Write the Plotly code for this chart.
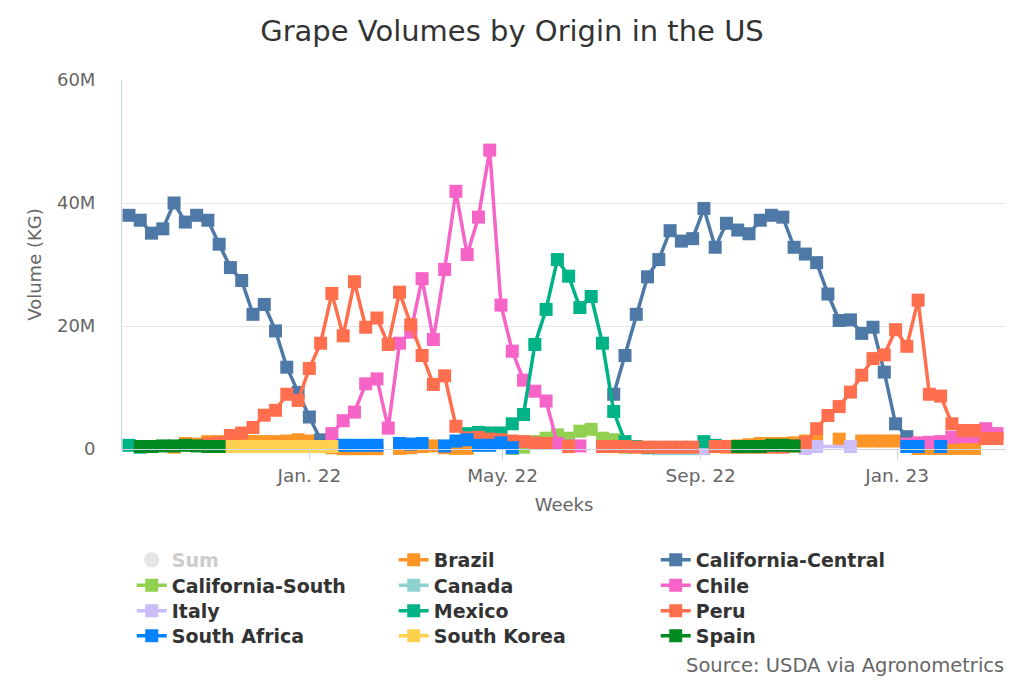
import pandas as pd
import plotly.graph_objects as go

N = None
weeks = pd.date_range("2021-09-11", periods=78, freq="7D")

brazil = [N, N, N, N, 0.3, 0.9, 0.8, 1.2, 1.2, 1.1,
          1.1, 1.2, 1.2, 1.2, 1.3, 1.5, 1.3, 0.5, 0.2, 0.05,
          0.05, 0.05, 0.05, N, 0.1, 0.2, 0.4, 0.5, 0.2, 0.1,
          0.1, N, N, N, N, N, N, N, N, N,
          N, N, N, N, N, N, N, N, N, N,
          N, N, N, 0.3, 0.5, 0.7, 0.9, 0.9, 0.9, 1.0,
          1.3, 1.4, N, 1.6, N, 1.3, 1.3, 1.3, 1.3, 1.2,
          0.1, 0.1, 0.1, 0.1, 0.1, 0.1, N, N]
cal_central = [38.0, 37.2, 35.1, 35.8, 40.0, 36.9, 38.0, 37.2, 33.3, 29.5,
               27.4, 21.9, 23.5, 19.2, 13.3, 9.2, 5.2, 1.5, N, N,
               N, N, N, N, N, N, N, N, N, N,
               N, N, N, N, N, N, N, N, N, N,
               N, N, N, 8.9, 15.2, 21.9, 28.0, 30.8, 35.5, 33.8,
               34.2, 39.1, 32.8, 36.7, 35.6, 35.0, 37.2, 38.0, 37.7, 32.8,
               31.7, 30.3, 25.2, 20.9, 21.0, 18.8, 19.8, 12.5, 4.1, 2.0,
               N, N, N, N, N, N, N, N]
cal_south = [N] * 34 + [0.1, 0.3, 1.2, 1.75, 2.3, 1.75, 2.9, 3.2, 1.75, 1.5, 0.3] + [N] * 33
canada = [N] * 47 + [0.05, 0.05, 0.05, 0.05] + [N] * 27
chile = [N, N, N, N, N, N, N, N, N, N,
         N, N, N, N, N, N, N, N, 2.5, 4.6,
         6.0, 10.6, 11.4, 3.4, 17.2, 19.0, 27.7, 17.8, 29.2, 41.9,
         31.6, 37.7, 48.6, 23.4, 15.9, 11.2, 9.4, 7.8, 0.9, 0.5,
         0.5, N, N, N, N, N, N, N, N, N,
         N, N, N, N, N, N, N, N, N, N,
         N, N, N, N, N, N, N, N, N, 0.8,
         1.0, 1.1, 1.2, 1.9, 2.0, 2.0, 3.3, 2.5]
# Italy has only a few reported weeks; missing weeks are joined by the line
italy = [N] * 51 + [0.05] + [N] * 8 + [0.1, 0.4, N, N, 0.4] + [N] * 13
mexico = [0.6, 0.3, N, N, N, N, N, N, N, N,
          N, N, N, N, N, N, N, N, N, N,
          N, N, N, N, N, N, N, N, N, N,
          2.5, 2.7, 2.6, 2.6, 4.1, 5.6, 17.0, 22.7, 30.8, 28.1,
          23.0, 24.8, 17.2, 6.1, 1.2, 0.4, 0.2, N, N, N,
          N, 1.2, 0.6, N, N, N, N, N, N, N,
          N, N, N, N, N, N, N, N, N, N,
          N, N, N, N, N, N, N, N]
peru = [N, N, N, N, N, N, N, 0.8, 1.0, 2.2,
        2.6, 3.5, 5.5, 6.3, 8.9, 7.9, 13.1, 17.2, 25.3, 18.4,
        27.2, 19.8, 21.3, 17.0, 25.5, 20.2, 15.2, 10.5, 11.9, 3.7,
        1.8, 1.9, 1.6, 1.5, 1.3, 1.2, 1.0, 0.9, N, 0.4,
        N, N, 0.4, 0.4, 0.4, 0.3, 0.3, 0.3, 0.3, 0.3,
        0.3, N, 0.4, 0.4, 0.3, 0.3, 0.3, 0.3, 0.3, 0.5,
        1.0, 3.3, 5.45, 6.9, 9.25, 12.0, 14.7, 15.3, 19.4, 16.7,
        24.2, 8.9, 8.6, 4.1, 3.0, 3.0, 1.7, 1.7]
south_africa = ([N] * 19 + [0.6, 0.6, 0.6, 0.6, N, 0.9, 0.8, 0.9, N, 0.5, 1.3,
                            1.5, 0.6, 0.6, 1.0, 0.2]
                + [N] * 34 + [0.4, 0.4, N, 0.4] + [N] * 5)
south_korea = [N] * 9 + [0.4] * 10 + [N] * 59
spain = [N, 0.4, 0.4, 0.5, 0.5, 0.6, 0.5, 0.4, 0.4] + [N] * 45 + [0.4, 0.4, 0.4, 0.6, 0.6, 0.5] + [N] * 18

series = [
    ("Brazil", brazil, "#fd9527", False),
    ("California-Central", cal_central, "#4e79a7", False),
    ("California-South", cal_south, "#92d050", False),
    ("Canada", canada, "#8fd3d1", False),
    ("Chile", chile, "#f564c6", False),
    ("Italy", italy, "#cbbdf9", True),
    ("Mexico", mexico, "#00b386", False),
    ("Peru", peru, "#ff6f4e", False),
    ("South Africa", south_africa, "#0582ff", False),
    ("South Korea", south_korea, "#ffd14f", False),
    ("Spain", spain, "#008a1f", False),
]

total = [sum(s[1][i] or 0 for s in series) for i in range(len(weeks))]

FONT = "DejaVu Sans, sans-serif"
legend_ids = ["legend", "legend", "legend2", "legend2", "legend2", "legend3",
              "legend3", "legend3", "legend4", "legend4", "legend4"]

fig = go.Figure()
fig.add_trace(go.Scatter(
    x=weeks, y=[v * 1e6 for v in total], name="<span style='color:#999999'>Sum</span>",
    mode="markers", visible="legendonly", legend="legend",
    marker=dict(symbol="circle", size=15, color="#cccccc"),
))
for (name, vals, color, joined), lg in zip(series, legend_ids):
    fig.add_trace(go.Scatter(
        x=weeks, y=[None if v is None else v * 1e6 for v in vals], name=name,
        mode="lines+markers", cliponaxis=False, legend=lg,
        line=dict(color=color, width=3.5),
        marker=dict(symbol="square", size=13, color=color, line=dict(width=0)),
        connectgaps=joined,
    ))


def paper_y(py):
    return (449 - py) / 369


def legend_cfg(row_y):
    return dict(orientation="h", xref="paper", x=0.011, xanchor="left",
                yref="paper", y=paper_y(row_y), yanchor="middle",
                entrywidth=217, entrywidthmode="pixels", itemwidth=30,
                bgcolor="rgba(0,0,0,0)",
                font=dict(size=19, color="#333333", family=FONT, weight="bold"),
                traceorder="normal")


fig.update_layout(
    width=1024, height=683,
    margin=dict(l=122, r=18, t=80, b=234, autoexpand=False),
    paper_bgcolor="white", plot_bgcolor="white",
    font=dict(family=FONT, color="#666666"),
    title=dict(text="Grape Volumes by Origin in the US", xref="container", x=0.5,
               xanchor="center", yref="container", y=1 - 31 / 683, yanchor="middle",
               font=dict(size=29, color="#333333", family=FONT)),
    showlegend=True,
    legend=legend_cfg(560),
    legend2=legend_cfg(585.5),
    legend3=legend_cfg(611),
    legend4=legend_cfg(636),
    xaxis=dict(type="date", range=["2021-09-06 16:00", "2023-03-09 14:00"],
               tickformat="%b. %y", dtick="M4", tick0="2022-01-01",
               showgrid=False, showline=True, linecolor="#ccd6eb", linewidth=1,
               ticks="outside", ticklen=10, tickcolor="#ccd6eb",
               tickfont=dict(size=18.5, color="#666666"),
               title=dict(text="Weeks", font=dict(size=18, color="#666666"), standoff=13),
               zeroline=False),
    yaxis=dict(range=[0, 60e6], tickvals=[0, 20e6, 40e6, 60e6],
               ticktext=["0", "20M", "40M", "60M"],
               showgrid=True, gridcolor="#e6e6e6", gridwidth=1,
               showline=True, linecolor="#ccd6eb", linewidth=1, zeroline=False,
               tickfont=dict(size=18, color="#666666"), ticks="", ticklabelstandoff=22,
               title=dict(text="Volume (KG)", font=dict(size=18, color="#666666"), standoff=10)),
    annotations=[dict(text="Source: USDA via Agronometrics", xref="paper", yref="paper",
                      x=1, xanchor="right", y=paper_y(665), yanchor="middle",
                      showarrow=False, font=dict(size=19.5, color="#666666", family=FONT))],
)
fig.write_html("out.html")
